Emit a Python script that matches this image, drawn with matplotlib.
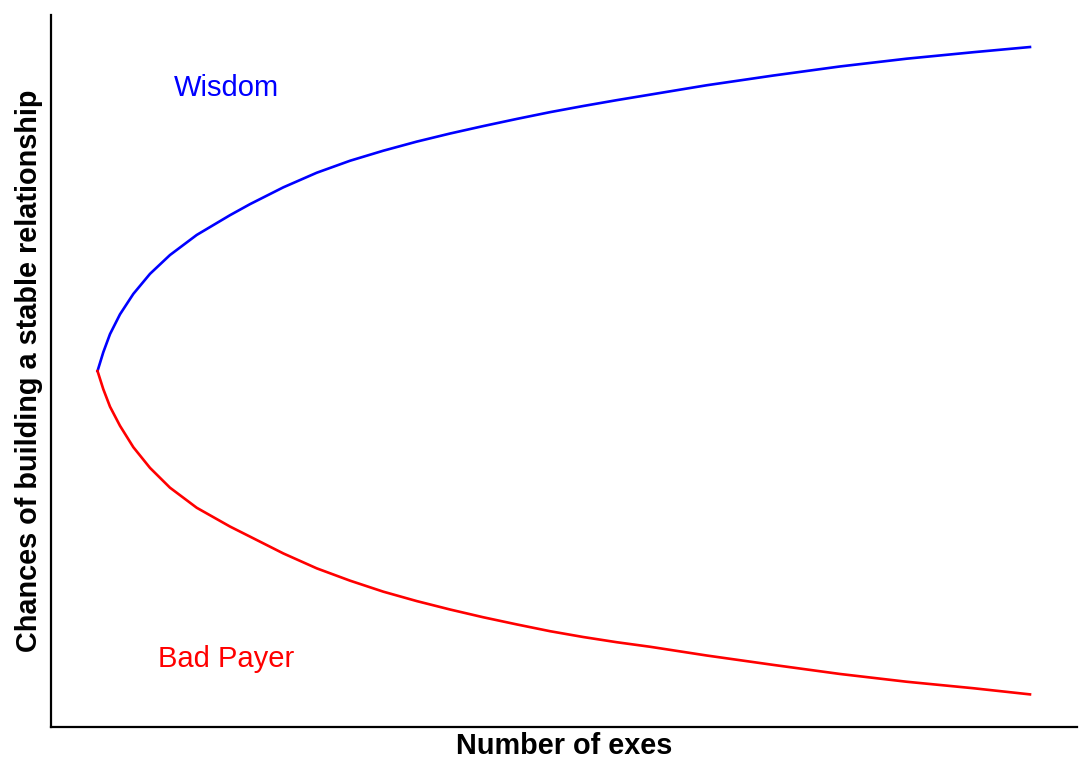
import matplotlib
import numpy as np
from matplotlib import pyplot as plt

matplotlib.use("Agg")
plt.rcParams['font.family'] = ['Liberation Sans', 'DejaVu Sans']

# number of exes (arbitrary units) and chance curves
exes = [0, 0.062, 0.134, 0.241, 0.384, 0.563, 0.777, 1.064, 1.421, 1.635,
        1.993, 2.351, 2.708, 3.065, 3.423, 3.780, 4.137, 4.495, 4.853, 5.210,
        5.568, 5.925, 6.533, 7.247, 7.962, 8.678, 9.392, 10]
wisdom = [0, 0.058, 0.114, 0.175, 0.238, 0.300, 0.358, 0.420, 0.481, 0.515,
          0.567, 0.612, 0.649, 0.680, 0.708, 0.733, 0.756, 0.778, 0.799, 0.818,
          0.836, 0.853, 0.882, 0.912, 0.940, 0.964, 0.984, 1.0]
bad_payer = [0, -0.056, -0.110, -0.169, -0.235, -0.299, -0.360, -0.422, -0.480, -0.511,
             -0.563, -0.609, -0.647, -0.681, -0.710, -0.736, -0.760, -0.782, -0.803, -0.821,
             -0.837, -0.851, -0.878, -0.907, -0.935, -0.959, -0.979, -0.998]

labels = ['Wisdom', 'Bad Payer']
label_x = [1.378, 1.378]
label_y = [0.874, -0.889]
colors = ['#0000ff', '#ff0000']

fig = plt.figure(figsize=(10.92, 7.78), dpi=100)
ax = fig.add_axes([0.0466, 0.065, 0.9393, 0.9162])

ax.plot(exes, wisdom, color=colors[0], lw=1.9, solid_joinstyle='round')
ax.plot(exes, bad_payer, color=colors[1], lw=1.9, solid_joinstyle='round')

for t, x, y, c in zip(labels, label_x, label_y, colors):
    ax.text(x, y, t, color=c, fontsize=21, ha='center', va='center')

ax.set_xlim(-0.5, 10.5)
ax.set_ylim(-1.1, 1.1)
ax.set_xticks([])
ax.set_yticks([])
for s in ['top', 'right']:
    ax.spines[s].set_visible(False)
for s in ['left', 'bottom']:
    ax.spines[s].set_linewidth(1.6)
    ax.spines[s].set_color('black')

ax.set_xlabel('Number of exes', fontsize=20.8, fontweight='bold', labelpad=3)
ax.set_ylabel('Chances of building a stable relationship', fontsize=20.8,
              fontweight='bold', labelpad=6)

fig.savefig('out.png', dpi=100)
